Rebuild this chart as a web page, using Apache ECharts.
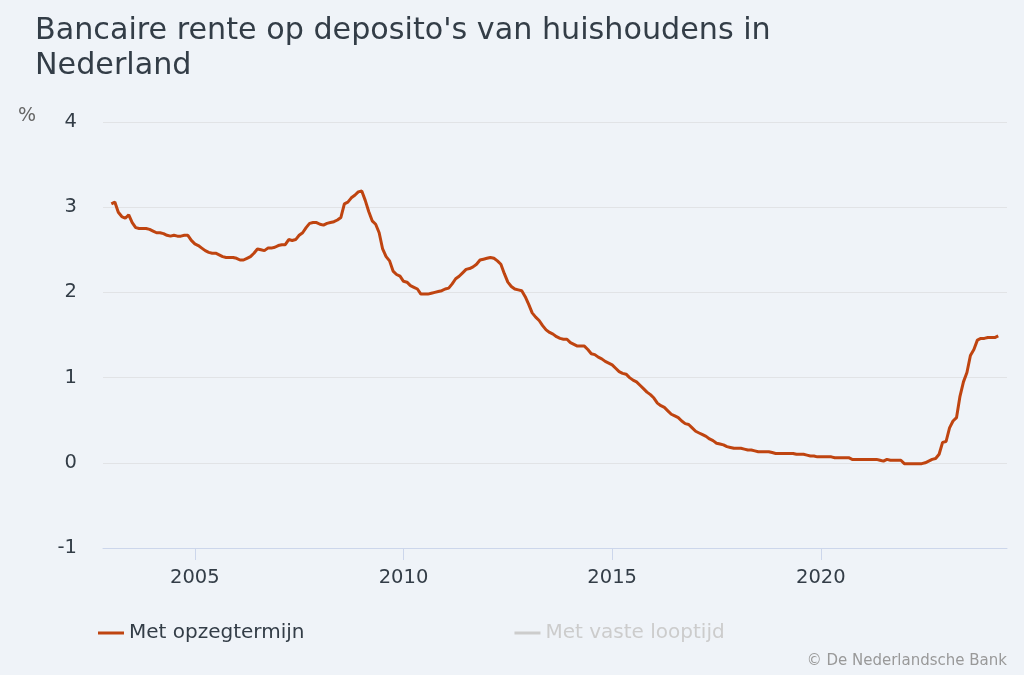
<!DOCTYPE html>
<html>
<head lang="nl">
    <meta charset="UTF-8">
    <title>Bancaire rente op deposito's van huishoudens in Nederland</title>
    <script src="https://cdn.jsdelivr.net/npm/echarts@6/dist/echarts.min.js"></script>
</head>
<style type="text/css">
    html, body { margin: 0; padding: 0; background: #eff3f8; }
    #main { width: 1024px; height: 675px; }
</style>
<body>
<div id="main"></div>
<script type="text/javascript">
    // maandreeks, eerste waarde = januari 2003
    var startJaar = 2003;
    var seriesNamen = ['Met opzegtermijn', 'Met vaste looptijd'];
    var jaarTicks = [2005, 2010, 2015, 2020];
    var yTicks = [-1, 0, 1, 2, 3, 4];

    var opzegtermijn = [
        3.04, 3.06, 2.94, 2.89, 2.87, 2.91, 2.82, 2.76, 2.75, 2.75, 2.75, 2.74,   // 2003
        2.72, 2.70, 2.70, 2.69, 2.67, 2.66, 2.67, 2.66, 2.66, 2.67, 2.67, 2.61,   // 2004
        2.57, 2.55, 2.52, 2.49, 2.47, 2.46, 2.46, 2.44, 2.42, 2.41, 2.41, 2.41,   // 2005
        2.40, 2.38, 2.38, 2.40, 2.42, 2.46, 2.51, 2.50, 2.49, 2.52, 2.52, 2.53,   // 2006
        2.55, 2.56, 2.56, 2.62, 2.61, 2.62, 2.67, 2.70, 2.76, 2.81, 2.82, 2.82,   // 2007
        2.80, 2.79, 2.81, 2.82, 2.83, 2.85, 2.88, 3.04, 3.06, 3.11, 3.14, 3.18,   // 2008
        3.19, 3.08, 2.95, 2.84, 2.80, 2.70, 2.51, 2.42, 2.37, 2.25, 2.21, 2.19,   // 2009
        2.13, 2.12, 2.08, 2.06, 2.04, 1.98, 1.98, 1.98, 1.99, 2.00, 2.01, 2.02,   // 2010
        2.04, 2.05, 2.10, 2.16, 2.19, 2.23, 2.27, 2.28, 2.30, 2.33, 2.38, 2.39,   // 2011
        2.40, 2.41, 2.40, 2.37, 2.33, 2.22, 2.12, 2.07, 2.04, 2.03, 2.02, 1.95,   // 2012
        1.86, 1.76, 1.71, 1.67, 1.61, 1.56, 1.53, 1.51, 1.48, 1.46, 1.45, 1.45,   // 2013
        1.41, 1.39, 1.37, 1.37, 1.37, 1.33, 1.28, 1.27, 1.24, 1.22, 1.19, 1.17,   // 2014
        1.15, 1.11, 1.07, 1.05, 1.04, 1.00, 0.97, 0.95, 0.91, 0.87, 0.83, 0.80,   // 2015
        0.76, 0.70, 0.67, 0.65, 0.61, 0.57, 0.55, 0.53, 0.49, 0.46, 0.45, 0.41,   // 2016
        0.37, 0.35, 0.33, 0.31, 0.28, 0.26, 0.23, 0.22, 0.21, 0.19, 0.18, 0.17,   // 2017
        0.17, 0.17, 0.16, 0.15, 0.15, 0.14, 0.13, 0.13, 0.13, 0.13, 0.12, 0.11,   // 2018
        0.11, 0.11, 0.11, 0.11, 0.11, 0.10, 0.10, 0.10, 0.09, 0.08, 0.08, 0.07,   // 2019
        0.07, 0.07, 0.07, 0.07, 0.06, 0.06, 0.06, 0.06, 0.06, 0.04, 0.04, 0.04,   // 2020
        0.04, 0.04, 0.04, 0.04, 0.04, 0.03, 0.02, 0.04, 0.03, 0.03, 0.03, 0.03,   // 2021
        -0.01, -0.01, -0.01, -0.01, -0.01, -0.01, 0.00, 0.02, 0.04, 0.05, 0.10, 0.24, // 2022
        0.25, 0.41, 0.49, 0.53, 0.78, 0.95, 1.06, 1.26, 1.33, 1.44, 1.46, 1.46,   // 2023
        1.47, 1.47, 1.47, 1.49                                                    // 2024
    ];
    var vasteLooptijd = [];   // staat uit in de legenda

    // maand i -> decimaal jaartal (jan 2003 = 2003.0)
    function maandData(waarden) {
        return waarden.map(function (v, i) {
            return [startJaar + i / 12, v];
        });
    }

    var fontFam = '"DejaVu Sans", Verdana, sans-serif';
    var myChart = echarts.init(document.getElementById('main'));

    var option = {
        backgroundColor: '#eff3f8',
        animation: false,
        title: {
            text: "Bancaire rente op deposito's van huishoudens in\nNederland",
            left: 30,
            top: 9,
            textStyle: {
                fontFamily: fontFam,
                fontSize: 30.2,
                fontWeight: 'normal',
                color: '#333d47',
                lineHeight: 35
            }
        },
        graphic: [{
            type: 'text',
            left: 18,
            top: 107,
            style: {text: '%', fontFamily: fontFam, fontSize: 19, fill: '#666666'}
        }, {
            type: 'text',
            right: 17,
            top: 654,
            style: {text: '\u00a9 De Nederlandsche Bank', fontFamily: fontFam, fontSize: 15, fill: '#999999'}
        }],
        legend: {
            left: 93,
            top: 618,
            icon: 'rect',
            itemWidth: 26,
            itemHeight: 3,
            itemGap: 210,
            inactiveColor: '#cccccc',
            textStyle: {fontFamily: fontFam, fontSize: 20, color: '#333d47'},
            data: seriesNamen,
            selected: {'Met vaste looptijd': false}
        },
        grid: {left: 103, right: 17, top: 122, bottom: 127},
        xAxis: {
            type: 'value',
            min: 2002.8,
            max: 2024.46,
            axisLine: {onZero: false, lineStyle: {color: '#ccd6eb', width: 1}},
            axisTick: {
                show: true,
                length: 12,
                lineStyle: {color: '#ccd6eb'},
                customValues: jaarTicks
            },
            axisLabel: {
                fontFamily: fontFam,
                fontSize: 19.5,
                color: '#333d47',
                margin: 20,
                customValues: jaarTicks,
                formatter: function (v) { return String(Math.round(v)); }
            },
            splitLine: {show: false}
        },
        yAxis: {
            type: 'value',
            min: yTicks[0],
            max: yTicks[yTicks.length - 1],
            interval: 1,
            axisLine: {show: false},
            axisTick: {show: false},
            axisLabel: {fontFamily: fontFam, fontSize: 19.5, color: '#333d47', margin: 26},
            splitLine: {lineStyle: {color: '#e1e3e6', width: 1}}
        },
        series: [{
            name: seriesNamen[0],
            type: 'line',
            showSymbol: false,
            color: '#bf4410',
            lineStyle: {width: 3, color: '#bf4410'},
            data: maandData(opzegtermijn)
        }, {
            name: seriesNamen[1],
            type: 'line',
            showSymbol: false,
            color: '#cccccc',
            lineStyle: {width: 3},
            data: maandData(vasteLooptijd)
        }]
    };

    myChart.setOption(option);
</script>
</body>
</html>
